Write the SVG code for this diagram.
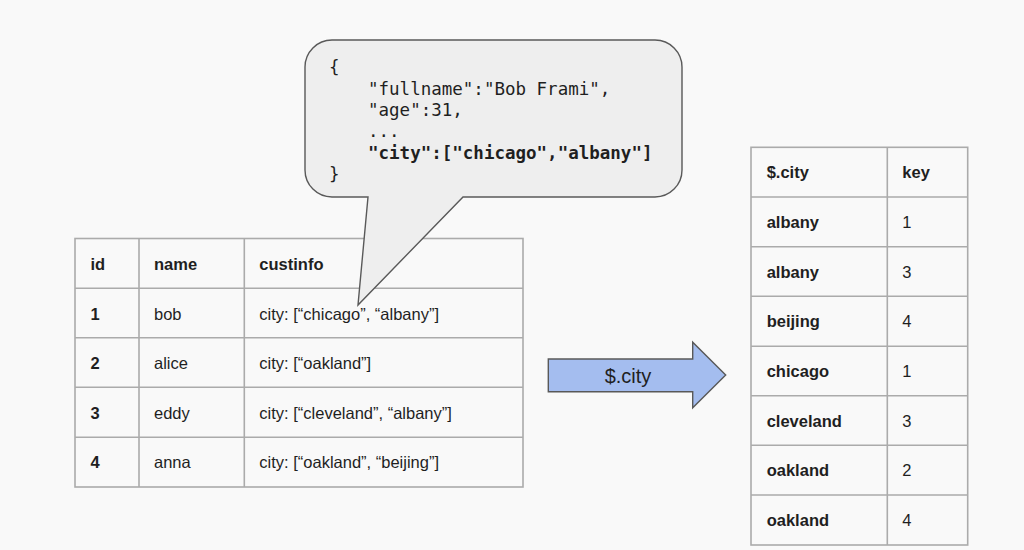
<svg xmlns="http://www.w3.org/2000/svg" width="1024" height="550" viewBox="0 0 1024 550">
<style>
.grid{fill:none;stroke:#ababab;stroke-width:1.6}
.t{font-family:"Liberation Sans",Arial,sans-serif;font-size:16.5px;fill:#1f1f1f}
.b{font-weight:bold}
.m{font-family:"DejaVu Sans Mono","Liberation Mono",monospace;font-size:17.5px;fill:#1f1f1f}
</style>
<rect width="1024" height="550" fill="#f9f9f9"/>
<g id="source-table">
<rect class="grid" x="75" y="238.5" width="448" height="248.5" fill="#f9f9f9"/>
<path class="grid" d="M139 238.5V487M244.3 238.5V487M75 288.3H523M75 337.7H523M75 387.3H523M75 437.3H523"/>
<text class="t b" x="90.5" y="269.5">id</text>
<text class="t b" x="154" y="269.5">name</text>
<text class="t b" x="259.3" y="269.5">custinfo</text>
<text class="t b" x="90.5" y="319.5">1</text>
<text class="t" x="154" y="319.5">bob</text>
<text class="t" x="259.3" y="319.5">city: [“chicago”, “albany”]</text>
<text class="t b" x="90.5" y="369">2</text>
<text class="t" x="154" y="369">alice</text>
<text class="t" x="259.3" y="369">city: [“oakland”]</text>
<text class="t b" x="90.5" y="418.5">3</text>
<text class="t" x="154" y="418.5">eddy</text>
<text class="t" x="259.3" y="418.5">city: [“cleveland”, “albany”]</text>
<text class="t b" x="90.5" y="468">4</text>
<text class="t" x="154" y="468">anna</text>
<text class="t" x="259.3" y="468">city: [“oakland”, “beijing”]</text>
</g>
<g id="json-callout">
<path d="M332 40H655A27 27 0 0 1 682 67V170A27 27 0 0 1 655 197H463L358 305L368 197H332A27 27 0 0 1 305 170V67A27 27 0 0 1 332 40Z" fill="#eeeeee" stroke="#595959" stroke-width="1.4"/>
<text class="m" x="329" y="73">{</text>
<text class="m" x="368" y="95">"fullname":"Bob Frami",</text>
<text class="m" x="368" y="116">"age":31,</text>
<text class="m" x="368" y="137">...</text>
<text class="m" x="368" y="158.5" font-weight="bold">"city":["chicago","albany"]</text>
<text class="m" x="329" y="180">}</text>
</g>
<g id="connectors">
<g id="arrow">
<polygon points="548.3,359 692.7,359 692.7,342.3 725.7,375 692.7,407.7 692.7,391.7 548.3,391.7" fill="#a4bdef" stroke="#595959" stroke-width="1.4"/>
<text x="628" y="383" text-anchor="middle" font-family="Liberation Sans, Arial, sans-serif" font-size="20" fill="#1f1f1f">$.city</text>
</g>
</g>
<g id="result-table">
<rect class="grid" x="751" y="147.3" width="216.7" height="397.7" fill="#f9f9f9"/>
<path class="grid" d="M887.3 147.3V545M751 197H967.7M751 246.7H967.7M751 296.3H967.7M751 346.3H967.7M751 395.7H967.7M751 445.3H967.7M751 495H967.7"/>
<text class="t b" x="766.7" y="178.2">$.city</text>
<text class="t b" x="902.3" y="178.2">key</text>
<text class="t b" x="766.7" y="227.8">albany</text>
<text class="t" x="902.3" y="227.8">1</text>
<text class="t b" x="766.7" y="277.5">albany</text>
<text class="t" x="902.3" y="277.5">3</text>
<text class="t b" x="766.7" y="327.3">beijing</text>
<text class="t" x="902.3" y="327.3">4</text>
<text class="t b" x="766.7" y="377">chicago</text>
<text class="t" x="902.3" y="377">1</text>
<text class="t b" x="766.7" y="426.5">cleveland</text>
<text class="t" x="902.3" y="426.5">3</text>
<text class="t b" x="766.7" y="476.2">oakland</text>
<text class="t" x="902.3" y="476.2">2</text>
<text class="t b" x="766.7" y="526">oakland</text>
<text class="t" x="902.3" y="526">4</text>
</g>
</svg>
